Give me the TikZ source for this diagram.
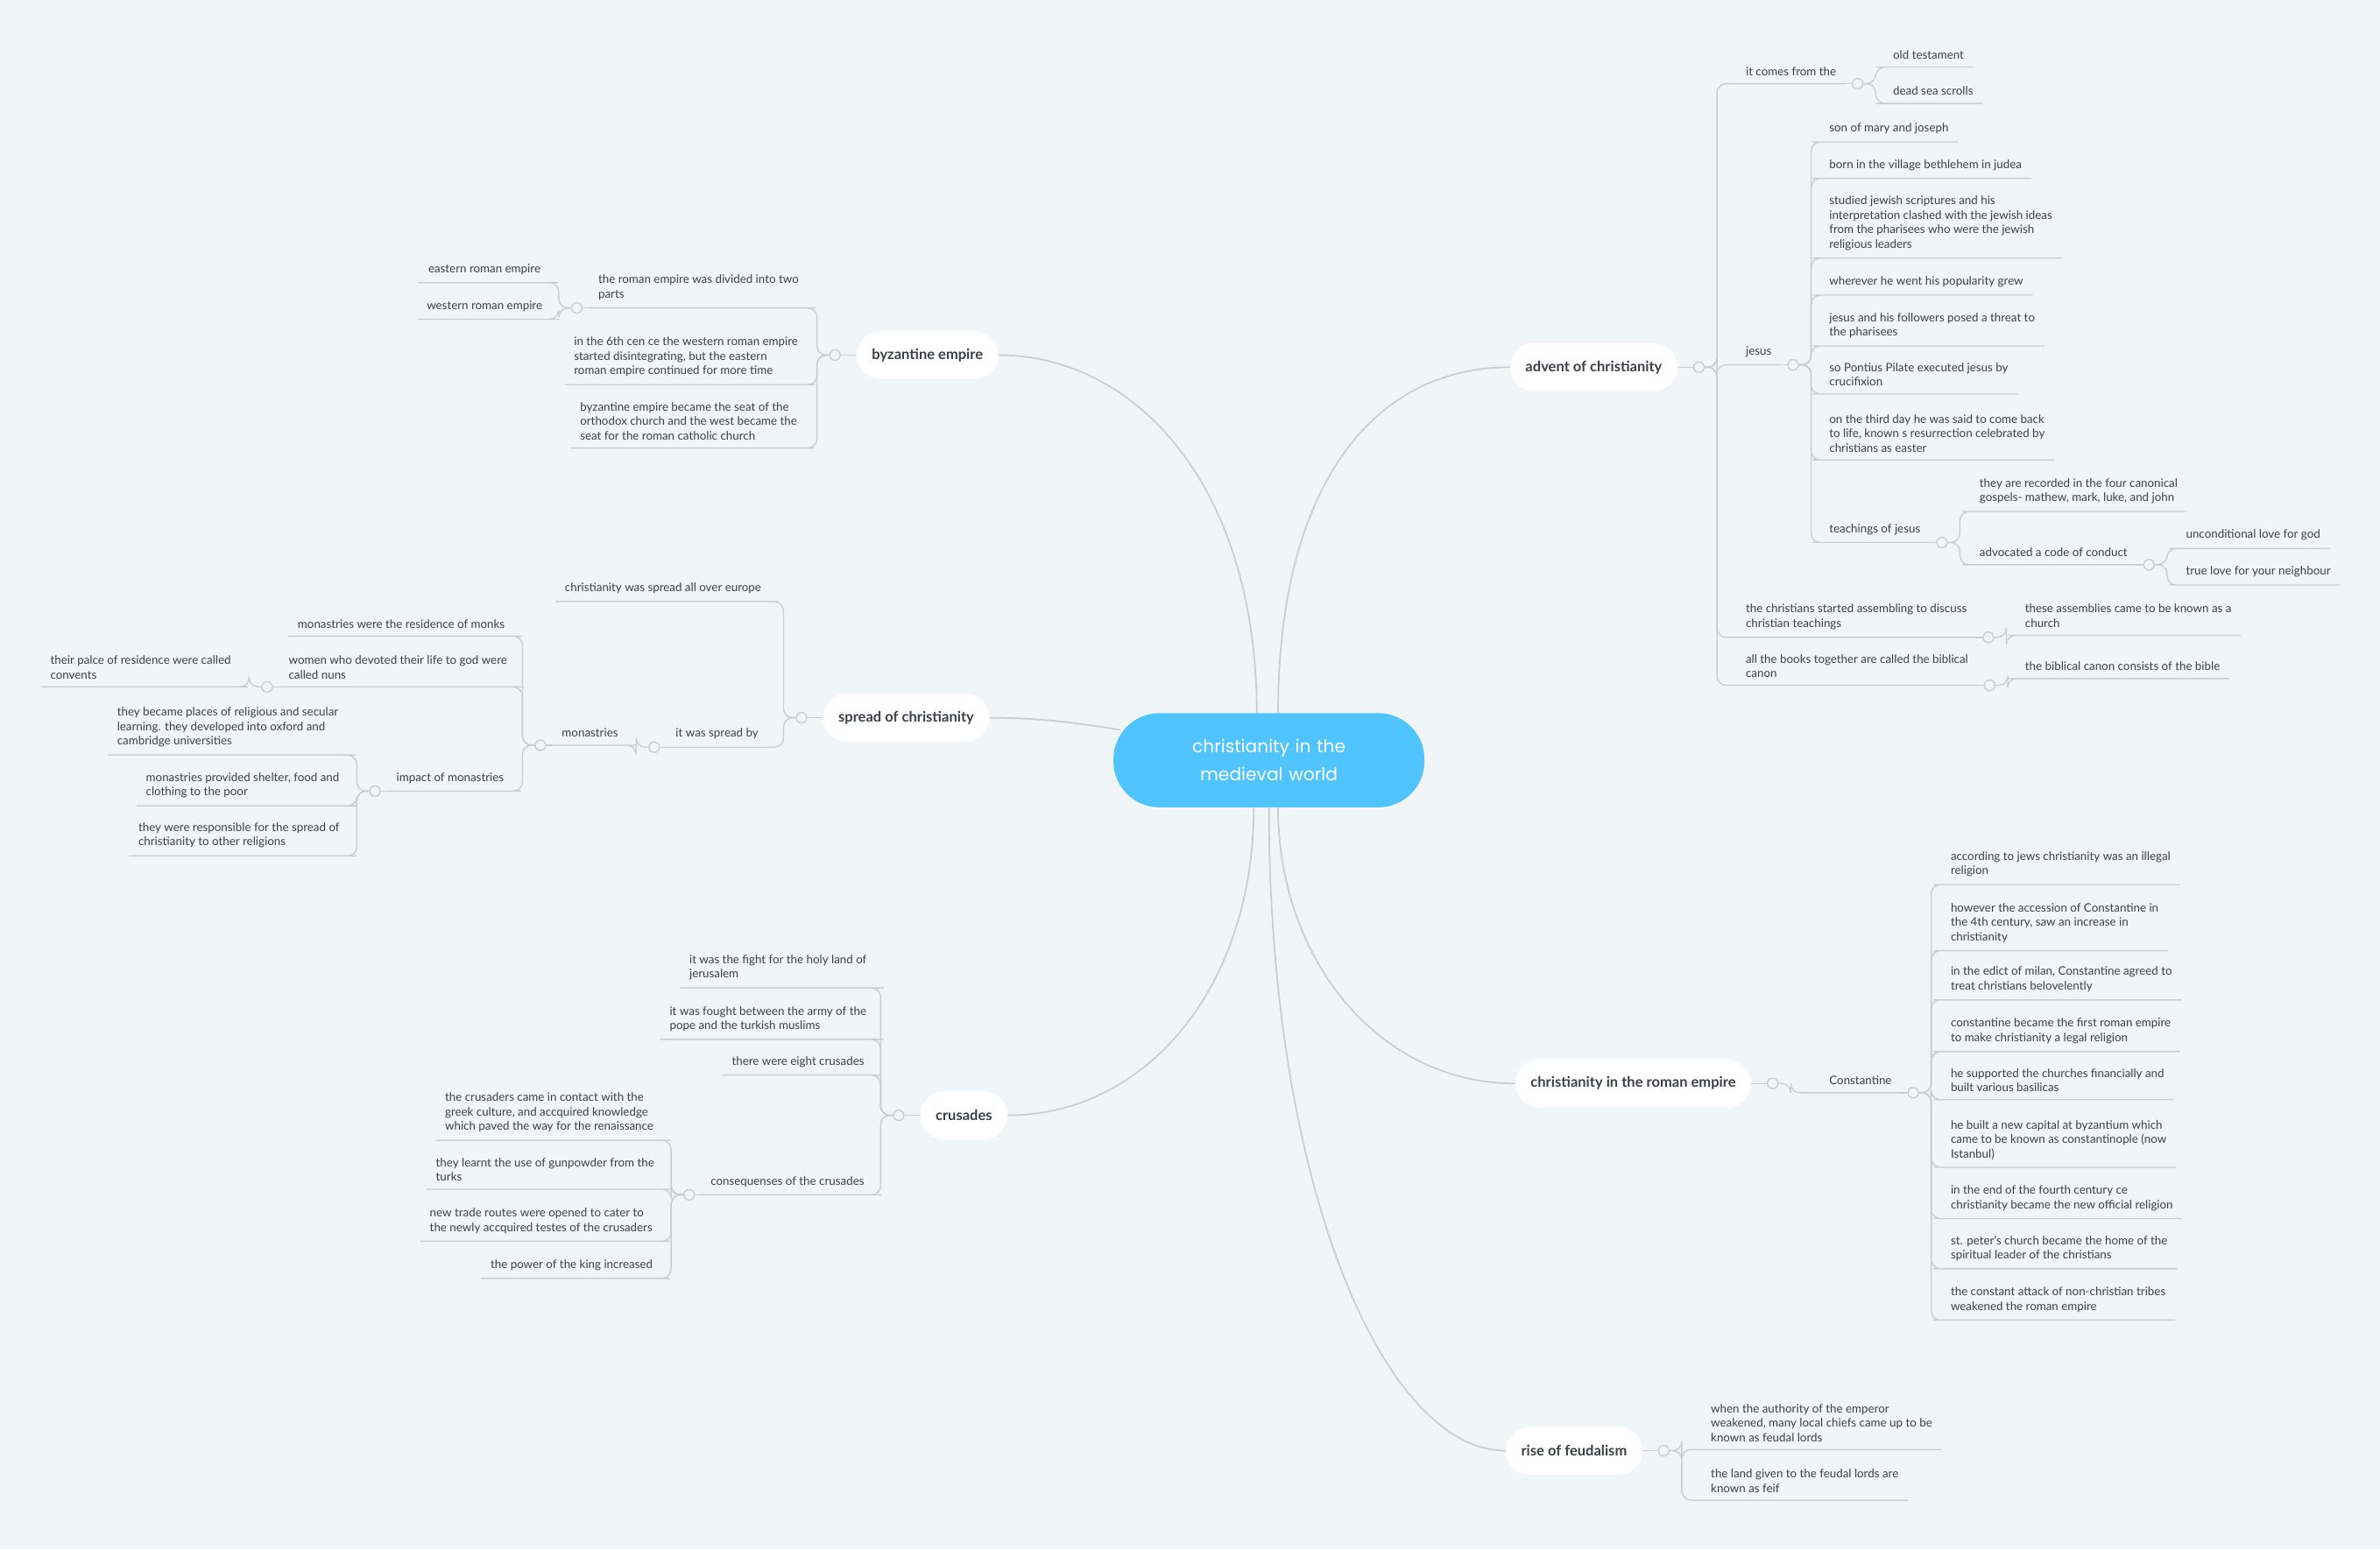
\documentclass[tikz,border=0pt]{standalone}
\usepackage{fontspec}
\setmainfont{Lato}
\newfontfamily\ctrfont{Poppins}
\usetikzlibrary{calc,positioning}
\definecolor{bg}{HTML}{F0F5F7}
\definecolor{linec}{HTML}{C9CED3}
\definecolor{txt}{HTML}{3C3F44}
\definecolor{ctrc}{HTML}{50C4FF}
\newcommand{\leaffont}{\fontsize{7.6}{9.4}\selectfont}
\newcommand{\rlink}[2]{\draw[link] (#1.east) -- ++(8,0) |- ($(#2.south west)+(-5,5)$) -- ($(#2.south east)+(6,5)$);}
\newcommand{\llink}[2]{\draw[link] (#1.west) -- ++(-8,0) |- ($(#2.south east)+(5,5)$) -- ($(#2.south west)+(-6,5)$);}
\newcommand{\rdot}[2]{\node[dot] (#2) at ($(#1.south east)+(14,5)$) {};\draw[link] ($(#1.south east)+(6,5)$) -- (#2);}
\newcommand{\ldot}[2]{\node[dot] (#2) at ($(#1.south west)+(-14,5)$) {};\draw[link] ($(#1.south west)+(-6,5)$) -- (#2);}

\begin{document}
\begin{tikzpicture}[x=0.03466cm,y=-0.03466cm]
\tikzset{leaf/.style={anchor=north west,inner sep=0pt,align=left,font=\leaffont,text=txt}}
\tikzset{branch/.style={fill=white,rounded corners=0.55cm,minimum height=1.1cm,inner xsep=0.35cm,font=\fontsize{9.4}{11}\selectfont\bfseries,text=txt}}
\tikzset{dot/.style={circle,draw=linec,fill=bg,line width=0.8pt,inner sep=0pt,minimum size=0.24cm}}
\tikzset{link/.style={draw=linec,line width=0.8pt,rounded corners=6pt}}
\tikzset{main/.style={draw=linec,line width=1pt}}
\fill[bg] (0,0) rectangle (1568,1021);
%
\node[fill=ctrc,rounded corners=1.05cm,minimum width=7.1cm,minimum height=2.15cm,text width=6.4cm,align=center,text=white,font=\ctrfont\fontsize{11.5}{18.5}\selectfont] (ctr) at (836,501) {christianity in the medieval world};
\node[branch] (adv) at (1050,242) {advent of christianity};
\node[branch] (rom) at (1076,714) {christianity in the roman empire};
\node[branch] (feu) at (1037,956) {rise of feudalism};
\node[branch] (byz) at (611,234) {byzantine empire};
\node[branch] (spr) at (597,473) {spread of christianity};
\node[branch] (cru) at (635,735) {crusades};
%
\draw[main] (842,470) .. controls +(0,-150) and +(-90,0) .. (adv.west);
\draw[main] (828,470) .. controls +(0,-150) and +(90,0) .. (byz.east);
\draw[main] (738,481) .. controls +(-30,-5) and +(30,0) .. (spr.east);
\draw[main] (826,532) .. controls +(0,120) and +(90,0) .. (cru.east);
\draw[main] (842,532) .. controls +(0,100) and +(-90,0) .. (rom.west);
\draw[main] (836,532) .. controls +(0,250) and +(-80,0) .. (feu.west);
%
\node[dot] (dadv) at ($(adv.east)+(14,0)$) {};
\node[dot] (drom) at ($(rom.east)+(14,0)$) {};
\node[dot] (dfeu) at ($(feu.east)+(14,0)$) {};
\node[dot] (dbyz) at ($(byz.west)+(-14,0)$) {};
\node[dot] (dspr) at ($(spr.west)+(-14,0)$) {};
\node[dot] (dcru) at ($(cru.west)+(-14,0)$) {};
\foreach \b/\d in {adv/dadv,rom/drom,feu/dfeu} \draw[link] (\b.east) -- (\d);
\foreach \b/\d in {byz/dbyz,spr/dspr,cru/dcru} \draw[link] (\b.west) -- (\d);
%
% advent of christianity
\node[leaf] (from) at (1150,44) {it comes from the};
\node[leaf] (oldt) at (1247,33) {old testament};
\node[leaf] (dead) at (1247,57) {dead sea scrolls};
\node[leaf] (jesus) at (1150,228) {jesus};
\node[leaf] (mary) at (1205,81) {son of mary and joseph};
\node[leaf] (born) at (1205,105) {born in the village bethlehem in judea};
\node[leaf] (stud) at (1205,129) {studied jewish scriptures and his\\interpretation clashed with the jewish ideas\\from the pharisees who were the jewish\\religious leaders};
\node[leaf] (grew) at (1205,182) {wherever he went his popularity grew};
\node[leaf] (threat) at (1205,206) {jesus and his followers posed a threat to\\the pharisees};
\node[leaf] (pilate) at (1205,239) {so Pontius Pilate executed jesus by\\crucifixion};
\node[leaf] (third) at (1205,273) {on the third day he was said to come back\\to life, known s resurrection celebrated by\\christians as easter};
\node[leaf] (teach) at (1205,345) {teachings of jesus};
\node[leaf] (gosp) at (1304,315) {they are recorded in the four canonical\\gospels- mathew, mark, luke, and john};
\node[leaf] (code) at (1304,361) {advocated a code of conduct};
\node[leaf] (love) at (1440,349) {unconditional love for god};
\node[leaf] (neigh) at (1440,373) {true love for your neighbour};
\node[leaf] (assem) at (1150,398) {the christians started assembling to discuss\\christian teachings};
\node[leaf] (church) at (1334,398) {these assemblies came to be known as a\\church};
\node[leaf] (books) at (1150,431) {all the books together are called the biblical\\canon};
\node[leaf] (bible) at (1334,436) {the biblical canon consists of the bible};
\foreach \c in {from,jesus,assem,books} {\rlink{dadv}{\c}}
\rdot{from}{dfrom} \rdot{jesus}{djesus} \rdot{assem}{dassem} \rdot{books}{dbooks}
\foreach \c in {oldt,dead} {\rlink{dfrom}{\c}}
\foreach \c in {mary,born,stud,grew,threat,pilate,third,teach} {\rlink{djesus}{\c}}
\rdot{teach}{dteach}
\foreach \c in {gosp,code} {\rlink{dteach}{\c}}
\rdot{code}{dcode}
\foreach \c in {love,neigh} {\rlink{dcode}{\c}}
\rlink{dassem}{church}
\rlink{dbooks}{bible}
%
% christianity in the roman empire
\node[leaf] (const) at (1205,709) {Constantine};
\node[leaf] (ca) at (1285,561) {according to jews christianity was an illegal\\religion};
\node[leaf] (cb) at (1285,595) {however the accession of Constantine in\\the 4th century, saw an increase in\\christianity};
\node[leaf] (cc) at (1285,637) {in the edict of milan, Constantine agreed to\\treat christians belovelently};
\node[leaf] (cd) at (1285,671) {constantine became the first roman empire\\to make christianity a legal religion};
\node[leaf] (ce) at (1285,704) {he supported the churches financially and\\built various basilicas};
\node[leaf] (cf) at (1285,738) {he built a new capital at byzantium which\\came to be known as constantinople (now\\Istanbul)};
\node[leaf] (cg) at (1285,781) {in the end of the fourth century ce\\christianity became the new official religion};
\node[leaf] (ch) at (1285,814) {st. peter's church became the home of the\\spiritual leader of the christians};
\node[leaf] (ci) at (1285,848) {the constant attack of non-christian tribes\\weakened the roman empire};
\rlink{drom}{const}
\rdot{const}{dconst}
\foreach \c in {ca,cb,cc,cd,ce,cf,cg,ch,ci} {\rlink{dconst}{\c}}
%
% rise of feudalism
\node[leaf] (chiefs) at (1127,925) {when the authority of the emperor\\weakened, many local chiefs came up to be\\known as feudal lords};
\node[leaf] (feif) at (1127,968) {the land given to the feudal lords are\\known as feif};
\foreach \c in {chiefs,feif} {\rlink{dfeu}{\c}}
%
% byzantine empire
\node[leaf] (div) at (394,181) {the roman empire was divided into two\\parts};
\node[leaf] (east) at (282,174) {eastern roman empire};
\node[leaf] (west) at (281,198) {western roman empire};
\node[leaf] (sixth) at (378,222) {in the 6th cen ce the western roman empire\\started disintegrating, but the eastern\\roman empire continued for more time};
\node[leaf] (seat) at (382,265) {byzantine empire became the seat of the\\orthodox church and the west became the\\seat for the roman catholic church};
\foreach \c in {div,sixth,seat} {\llink{dbyz}{\c}}
\ldot{div}{ddiv}
\foreach \c in {east,west} {\llink{ddiv}{\c}}
%
% spread of christianity
\node[leaf] (europe) at (372,384) {christianity was spread all over europe};
\node[leaf] (by) at (445,480) {it was spread by};
\node[leaf] (mon) at (370,480) {monastries};
\node[leaf] (monks) at (196,408) {monastries were the residence of monks};
\node[leaf] (nuns) at (190,432) {women who devoted their life to god were\\called nuns};
\node[leaf] (conv) at (33,432) {their palce of residence were called\\convents};
\node[leaf] (impact) at (261,509) {impact of monastries};
\node[leaf] (learn) at (77,466) {they became places of religious and secular\\learning. they developed into oxford and\\cambridge universities};
\node[leaf] (shelter) at (96,509) {monastries provided shelter, food and\\clothing to the poor};
\node[leaf] (resp) at (91,542) {they were responsible for the spread of\\christianity to other religions};
\foreach \c in {europe,by} {\llink{dspr}{\c}}
\ldot{by}{dby}
\llink{dby}{mon}
\ldot{mon}{dmon}
\foreach \c in {monks,nuns,impact} {\llink{dmon}{\c}}
\ldot{nuns}{dnuns}
\llink{dnuns}{conv}
\ldot{impact}{dimp}
\foreach \c in {learn,shelter,resp} {\llink{dimp}{\c}}
%
% crusades
\node[leaf] (holy) at (454,629) {it was the fight for the holy land of\\jerusalem};
\node[leaf] (pope) at (441,663) {it was fought between the army of the\\pope and the turkish muslims};
\node[leaf] (eight) at (482,696) {there were eight crusades};
\node[leaf] (cons) at (468,775) {consequenses of the crusades};
\node[leaf] (greek) at (293,720) {the crusaders came in contact with the\\greek culture, and accquired knowledge\\which paved the way for the renaissance};
\node[leaf] (gun) at (287,763) {they learnt the use of gunpowder from the\\turks};
\node[leaf] (trade) at (283,796) {new trade routes were opened to cater to\\the newly accquired testes of the crusaders};
\node[leaf] (king) at (323,830) {the power of the king increased};
\foreach \c in {holy,pope,eight,cons} {\llink{dcru}{\c}}
\ldot{cons}{dcons}
\foreach \c in {greek,gun,trade,king} {\llink{dcons}{\c}}
\end{tikzpicture}
\end{document}
